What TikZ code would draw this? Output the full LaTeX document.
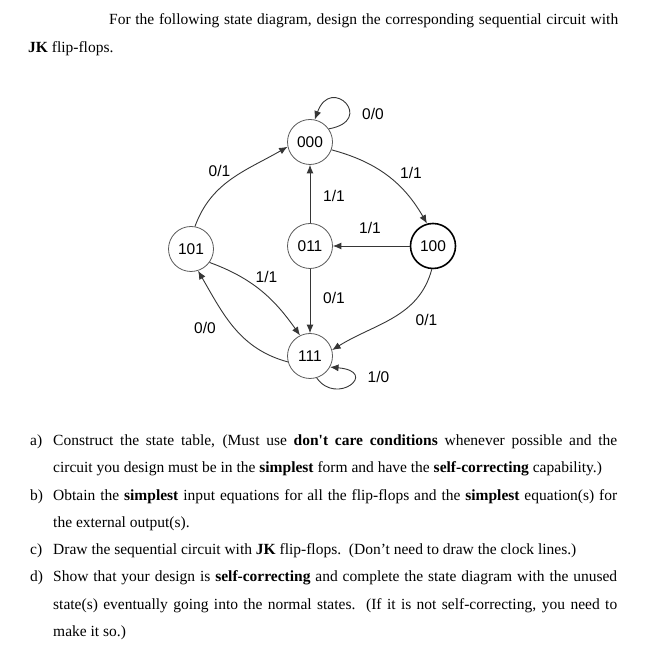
\documentclass[tikz,border=0pt]{standalone}
\usepackage{fontspec}
\setmainfont{Liberation Serif}
\newfontfamily\diagfont{Liberation Sans}
\usepackage{tikz}
\usetikzlibrary{arrows.meta, positioning, calc}
\definecolor{linegray}{HTML}{363636}
\definecolor{ringgray}{HTML}{5A5A5A}
\hfuzz=30pt

\begin{document}
\begin{tikzpicture}[x=1pt, y=1pt,
    state/.style={circle, draw=ringgray, line width=0.8pt, minimum size=45pt, inner sep=0pt,
        font=\diagfont\fontsize{15.5}{15.5}\selectfont},
    lbl/.style={inner sep=0pt, font=\diagfont\fontsize{15.5}{15.5}\selectfont},
    trans/.style={draw=linegray, line width=0.9pt, -{Latex[length=8.5pt, width=7pt]}},
    para/.style={anchor=base west, inner sep=0pt, align=justify,
        font=\fontsize{15.5}{27.3}\selectfont}]
    \useasboundingbox (0, 0) rectangle (656, 658);

    % question text
    \node[para, text width=590pt] (head) at (28, 633)
        {\hspace*{81pt}For the following state diagram, design the corresponding sequential circuit with\linebreak
        \textbf{JK} flip-flops.};

    % states
    \node[state] (s000) at (310, 516) {000};
    \node[state] (s011) at (310, 412) {011};
    \node[state] (s101) at (191, 409) {101};
    \node[state, draw=black, line width=1.6pt] (s100) at (433, 412) {100};
    \node[state] (s111) at (310, 302) {111};

    % transitions
    \draw[trans] (s000.35) .. controls +(10:48) and +(70:48) .. (s000.78);
    \draw[trans] (s101.80) to[out=70, in=210] (s000.192);
    \draw[trans] (s000.-20) to[out=-15, in=120] (s100.105);
    \draw[trans] (s011) -- (s000);
    \draw[trans] (s100) -- (s011);
    \draw[trans] (s011) -- (s111);
    \draw[trans] (s101.-36) to[out=-20, in=125] (s111.116);
    \draw[trans] (s111.195) to[out=165, in=-60] (s101.-72);
    \draw[trans] (s100.-93) to[out=-105, in=32] (s111.15);
    \draw[trans] (s111.-73) .. controls +(-55:35) and +(-5:50) .. (s111.-29);

    \node[lbl] (l0) at (373, 544) {0/0};
    \node[lbl] (l1) at (219.5, 487) {0/1};
    \node[lbl] (l2) at (411, 485) {1/1};
    \node[lbl] (l3) at (334, 462) {1/1};
    \node[lbl] (l4) at (370, 430.5) {1/1};
    \node[lbl] (l5) at (266.5, 381.5) {1/1};
    \node[lbl] (l6) at (334, 360.5) {0/1};
    \node[lbl] (l7) at (205, 330) {0/0};
    \node[lbl] (l8) at (426.5, 338) {0/1};
    \node[lbl] (l9) at (378.5, 281.5) {1/0};

    % parts a) to d)
    \node[para, text width=587pt] (parts) at (30, 212.5)
        {\hangindent=23pt\hangafter=1\makebox[23pt][l]{a)}Construct the state table, (Must use \textbf{don\textquotesingle t care conditions} whenever possible and the\linebreak
        \mbox{circuit you design must be in the \textbf{simplest} form and have the \textbf{self-correcting} capability.)}\par
        \hangindent=23pt\hangafter=1\makebox[23pt][l]{b)}Obtain the \textbf{simplest} input equations for all the flip-flops and the \textbf{simplest} equation(s) for\linebreak
        the external output(s).\par
        \hangindent=23pt\hangafter=1\makebox[23pt][l]{c)}Draw the sequential circuit with \textbf{JK} flip-flops.\ \ (Don't need to draw the clock lines.)\par
        \hangindent=23pt\hangafter=1\makebox[23pt][l]{d)}Show that your design is \textbf{self-correcting} and complete the state diagram with the unused\linebreak
        state(s) eventually going into the normal states.\ \ (If it is not self-correcting, you need to\linebreak
        make it so.)\par};
\end{tikzpicture}
\end{document}
